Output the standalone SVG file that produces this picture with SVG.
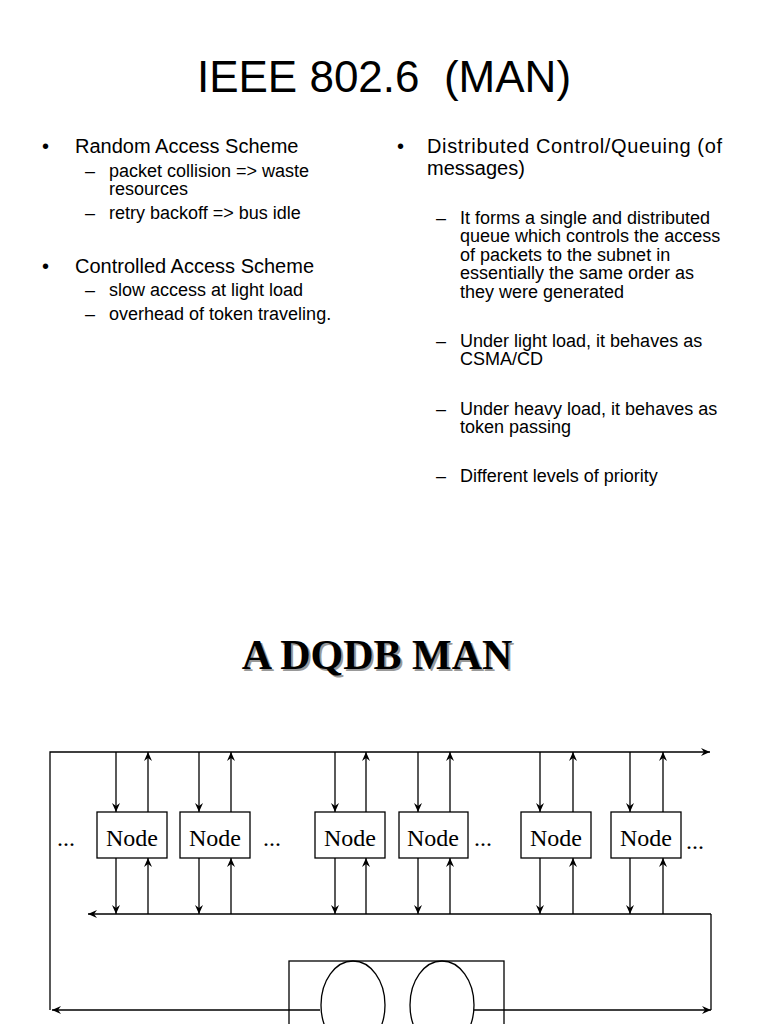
<svg xmlns="http://www.w3.org/2000/svg" width="768" height="1024" viewBox="0 0 768 1024">
<style>
.t{font-family:"Liberation Sans",Arial,sans-serif;fill:#000}
.b{font-size:20px}.s{font-size:18px}
.n{font-family:"Liberation Serif","Times New Roman",serif;font-size:24px}
.l{stroke:#000;stroke-width:1.3;fill:none}
.m{marker-end:url(#a)}
</style>
<defs><marker id="a" markerWidth="10" markerHeight="8" refX="9" refY="4" orient="auto" markerUnits="userSpaceOnUse"><path d="M0,0L9,4L0,8L3,4Z" fill="#000"/></marker></defs>
<rect width="768" height="1024" fill="#fff"/>
<text class="t" x="384" y="92" font-size="44" text-anchor="middle" xml:space="preserve">IEEE 802.6  (MAN)</text>
<g class="t b">
<text x="42" y="153">•</text><text x="75" y="153">Random Access Scheme</text>
<text x="42" y="273">•</text><text x="75" y="273">Controlled Access Scheme</text>
<text x="397" y="153">•</text><text x="427" y="153" textLength="295">Distributed Control/Queuing (of</text><text x="427" y="175">messages)</text>
</g>
<g class="t s">
<text x="85" y="177">–</text><text x="109" y="177">packet collision =&gt; waste</text><text x="109" y="195">resources</text>
<text x="85" y="219">–</text><text x="109" y="219">retry backoff =&gt; bus idle</text>
<text x="85" y="296">–</text><text x="109" y="296">slow access at light load</text>
<text x="85" y="320">–</text><text x="109" y="320">overhead of token traveling.</text>
<text x="436" y="224">–</text><text x="460" y="224">It forms a single and distributed</text><text x="460" y="242">queue which controls the access</text><text x="460" y="261">of packets to the subnet in</text><text x="460" y="279">essentially the same order as</text><text x="460" y="298">they were generated</text>
<text x="436" y="347">–</text><text x="460" y="347">Under light load, it behaves as</text><text x="460" y="365">CSMA/CD</text>
<text x="436" y="415">–</text><text x="460" y="415">Under heavy load, it behaves as</text><text x="460" y="433">token passing</text>
<text x="436" y="482">–</text><text x="460" y="482">Different levels of priority</text>
</g>
<g font-family="Liberation Serif,serif" font-weight="bold" font-size="42" text-anchor="middle">
<text x="379" y="671" fill="#999">A DQDB MAN</text>
<text x="377" y="669" fill="#000">A DQDB MAN</text>
</g>
<g id="connectors" class="l">
<path class="m" d="M50,1010V752H710"/>
<path class="m" d="M711,914H88"/>
<path d="M711,914V1010"/>
<path class="m" d="M320,1010H52"/>
<path class="m" d="M474,1010H711"/>
<path class="m" d="M116,752V812"/><path class="m" d="M199,752V812"/><path class="m" d="M335,752V812"/><path class="m" d="M418,752V812"/><path class="m" d="M540,752V812"/><path class="m" d="M630,752V812"/>
<path class="m" d="M148,812V752"/><path class="m" d="M231,812V752"/><path class="m" d="M366,812V752"/><path class="m" d="M450,812V752"/><path class="m" d="M573,812V752"/><path class="m" d="M663,812V752"/>
<path class="m" d="M116,858V914"/><path class="m" d="M199,858V914"/><path class="m" d="M335,858V914"/><path class="m" d="M418,858V914"/><path class="m" d="M540,858V914"/><path class="m" d="M630,858V914"/>
<path class="m" d="M148,914V858"/><path class="m" d="M231,914V858"/><path class="m" d="M366,914V858"/><path class="m" d="M450,914V858"/><path class="m" d="M573,914V858"/><path class="m" d="M663,914V858"/>
</g>
<g id="n1"><rect class="l" x="97" y="812" width="70" height="46"/><text class="n" x="132" y="846" text-anchor="middle">Node</text></g>
<g id="n2"><rect class="l" x="180" y="812" width="70" height="46"/><text class="n" x="215" y="846" text-anchor="middle">Node</text></g>
<g id="n3"><rect class="l" x="315" y="812" width="70" height="46"/><text class="n" x="350" y="846" text-anchor="middle">Node</text></g>
<g id="n4"><rect class="l" x="399" y="812" width="69" height="46"/><text class="n" x="433" y="846" text-anchor="middle">Node</text></g>
<g id="n5"><rect class="l" x="521" y="812" width="70" height="46"/><text class="n" x="556" y="846" text-anchor="middle">Node</text></g>
<g id="n6"><rect class="l" x="611" y="812" width="70" height="46"/><text class="n" x="646" y="846" text-anchor="middle">Node</text></g>
<g class="n"><text x="57" y="846">...</text><text x="263" y="846">...</text><text x="474" y="846">...</text><text x="686" y="849">...</text></g>
<g id="head"><rect class="l" x="289" y="961" width="215" height="80"/>
<ellipse class="l" cx="353" cy="1005" rx="32" ry="44"/><ellipse class="l" cx="442" cy="1005" rx="32" ry="44"/></g>
<g class="n" font-size="30"><text x="115" y="1042">Bus A</text><text x="555" y="1042">Bus B</text></g>
</svg>
